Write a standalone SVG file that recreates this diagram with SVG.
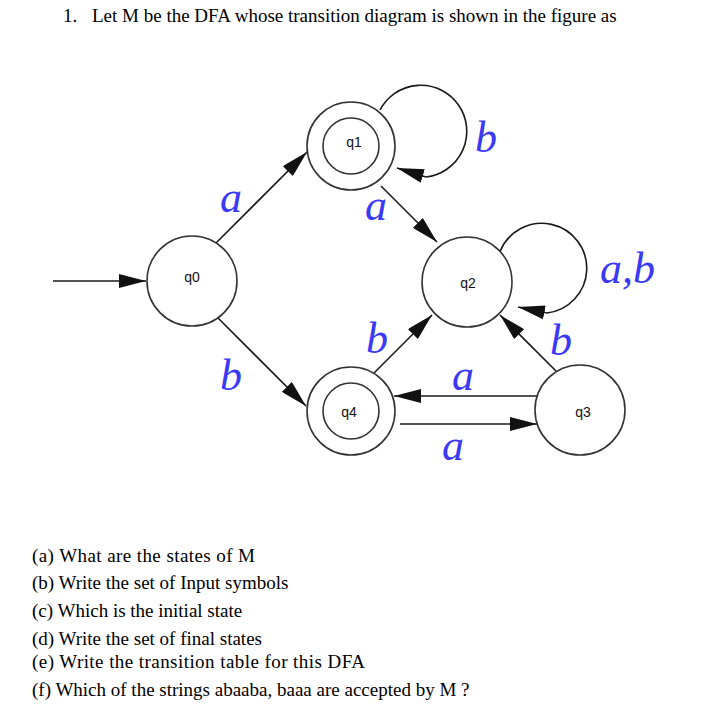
<svg xmlns="http://www.w3.org/2000/svg" width="716" height="714" viewBox="0 0 716 714">
<style>
.st{fill:#fff;stroke:#333;stroke-width:1.6}
.in{fill:none;stroke:#333;stroke-width:1.6}
.ql{font-family:"Liberation Sans",Arial,sans-serif;font-size:14px;fill:#111;text-anchor:middle}
.ed{fill:none;stroke:#1a1a1a;stroke-width:1.6;marker-end:url(#ah)}
.lb{font-family:"Liberation Serif","Times New Roman",serif;font-style:italic;font-size:44px;fill:#3a3af5;text-anchor:middle}
.tx{font-family:"Liberation Serif","Times New Roman",serif;font-size:19px;fill:#000}
</style>
<defs>
<marker id="ah" viewBox="0 0 27 14" refX="27" refY="7" markerWidth="27" markerHeight="14" markerUnits="userSpaceOnUse" orient="auto">
<path d="M0,0 L27,7 L0,14 z" fill="#111"/>
</marker>
</defs>
<rect width="716" height="714" fill="#fff"/>
<g id="title">
<text class="tx" x="63" y="22">1.</text>
<text class="tx" x="92" y="22">Let M be the DFA whose transition diagram is shown in the figure as</text>
</g>
<g id="edges">
<path class="ed" d="M53,281 L146,281" stroke-width="2.5"/>
<path class="ed" d="M216,243 L307,152"/>
<path class="ed" d="M381,186 L437,242"/>
<path class="ed" d="M218,318 L306,406"/>
<path class="ed" d="M374,373 L432,315"/>
<path class="ed" d="M556,371 L500,315"/>
<path class="ed" d="M537,396 L394,396"/>
<path class="ed" d="M400,424 L537,424"/>
<path class="ed" d="M380,110 A46,46 0 1 1 426,177 L397,168"/>
<path class="ed" d="M500,251.5 A45,45 0 1 1 547,313 L518,307"/>
<text class="lb" x="231" y="212">a</text>
<text class="lb" x="376" y="220">a</text>
<text class="lb" x="486" y="152">b</text>
<text class="lb" x="600" y="283" text-anchor="start" style="text-anchor:start">a,b</text>
<text class="lb" x="231" y="390">b</text>
<text class="lb" x="377" y="353">b</text>
<text class="lb" x="561" y="355">b</text>
<text class="lb" x="463" y="390">a</text>
<text class="lb" x="453" y="460">a</text>
</g>
<g id="q0">
<circle class="st" cx="192" cy="281" r="45"/>
<text class="ql" x="192" y="282">q0</text>
</g>
<g id="q1">
<circle class="st" cx="351" cy="146" r="44"/>
<circle class="in" cx="351" cy="146" r="28"/>
<text class="ql" x="354" y="147">q1</text>
</g>
<g id="q2">
<circle class="st" cx="467" cy="282" r="45"/>
<text class="ql" x="468" y="288">q2</text>
</g>
<g id="q4">
<circle class="st" cx="351" cy="411" r="44"/>
<circle class="in" cx="351" cy="411" r="28"/>
<text class="ql" x="349" y="417">q4</text>
</g>
<g id="q3">
<circle class="st" cx="580" cy="410" r="45"/>
<text class="ql" x="583" y="417">q3</text>
</g>
<g id="questions">
<text class="tx" x="32" y="562" textLength="223" lengthAdjust="spacing">(a) What are the states of M</text>
<text class="tx" x="32" y="589">(b) Write the set of Input symbols</text>
<text class="tx" x="32" y="617">(c) Which is the initial state</text>
<text class="tx" x="32" y="645">(d) Write the set of final states</text>
<text class="tx" x="32" y="668" textLength="333" lengthAdjust="spacing">(e) Write the transition table for this DFA</text>
<text class="tx" x="32" y="696">(f) Which of the strings abaaba, baaa are accepted by M ?</text>
</g>
</svg>
